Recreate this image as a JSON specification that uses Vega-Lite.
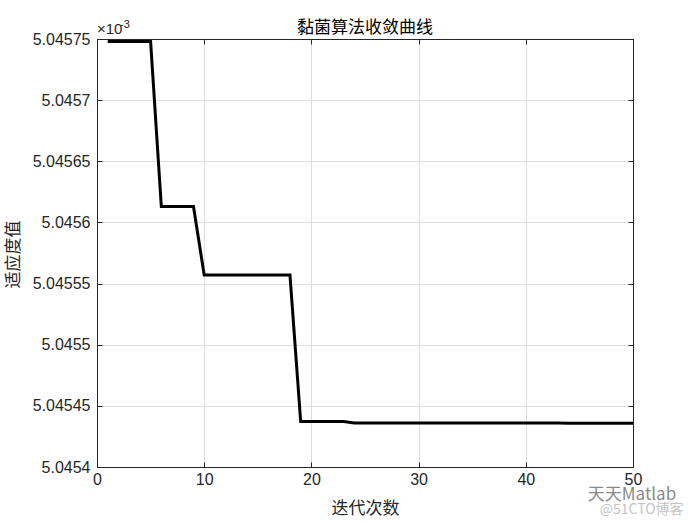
{
  "$schema": "https://vega.github.io/schema/vega-lite/v6.json",
  "width": 536,
  "height": 428,
  "autosize": {"type": "none"},
  "padding": {"left": 97, "top": 39, "right": 67, "bottom": 58},
  "background": "white",
  "title": {"text": "黏菌算法收敛曲线", "font": "Noto Sans CJK SC", "fontSize": 17, "fontWeight": "normal", "color": "#000000", "offset": -18, "anchor": "middle", "frame": "group"},
  "config": {
    "view": {"stroke": "#262626", "strokeWidth": 1},
    "axis": {"labelFont": "Liberation Sans", "labelFontSize": 16, "labelColor": "#262626", "domainColor": "#262626", "tickColor": "#262626", "gridColor": "#dedede", "gridWidth": 1, "titleFont": "Noto Sans CJK SC", "titleFontSize": 17, "titleFontWeight": "normal", "titleColor": "#262626"}
  },
  "datasets": {
    "curve": [
      {"iter": 1, "fitness": 0.005045748},
      {"iter": 2, "fitness": 0.005045748},
      {"iter": 3, "fitness": 0.005045748},
      {"iter": 4, "fitness": 0.005045748},
      {"iter": 5, "fitness": 0.005045748},
      {"iter": 6, "fitness": 0.005045613},
      {"iter": 7, "fitness": 0.005045613},
      {"iter": 8, "fitness": 0.005045613},
      {"iter": 9, "fitness": 0.005045613},
      {"iter": 10, "fitness": 0.005045557},
      {"iter": 11, "fitness": 0.005045557},
      {"iter": 12, "fitness": 0.005045557},
      {"iter": 13, "fitness": 0.005045557},
      {"iter": 14, "fitness": 0.005045557},
      {"iter": 15, "fitness": 0.005045557},
      {"iter": 16, "fitness": 0.005045557},
      {"iter": 17, "fitness": 0.005045557},
      {"iter": 18, "fitness": 0.005045557},
      {"iter": 19, "fitness": 0.0050454372},
      {"iter": 20, "fitness": 0.0050454372},
      {"iter": 21, "fitness": 0.0050454372},
      {"iter": 22, "fitness": 0.0050454372},
      {"iter": 23, "fitness": 0.0050454372},
      {"iter": 24, "fitness": 0.005045436},
      {"iter": 25, "fitness": 0.005045436},
      {"iter": 26, "fitness": 0.005045436},
      {"iter": 27, "fitness": 0.005045436},
      {"iter": 28, "fitness": 0.005045436},
      {"iter": 29, "fitness": 0.005045436},
      {"iter": 30, "fitness": 0.005045436},
      {"iter": 31, "fitness": 0.005045436},
      {"iter": 32, "fitness": 0.005045436},
      {"iter": 33, "fitness": 0.005045436},
      {"iter": 34, "fitness": 0.005045436},
      {"iter": 35, "fitness": 0.005045436},
      {"iter": 36, "fitness": 0.005045436},
      {"iter": 37, "fitness": 0.005045436},
      {"iter": 38, "fitness": 0.005045436},
      {"iter": 39, "fitness": 0.005045436},
      {"iter": 40, "fitness": 0.005045436},
      {"iter": 41, "fitness": 0.005045436},
      {"iter": 42, "fitness": 0.005045436},
      {"iter": 43, "fitness": 0.005045436},
      {"iter": 44, "fitness": 0.0050454357},
      {"iter": 45, "fitness": 0.0050454357},
      {"iter": 46, "fitness": 0.0050454357},
      {"iter": 47, "fitness": 0.0050454357},
      {"iter": 48, "fitness": 0.0050454357},
      {"iter": 49, "fitness": 0.0050454357},
      {"iter": 50, "fitness": 0.0050454357}
    ],
    "notes": [
      {"iter": 0, "fitness": 0.00504575, "label": "×10", "sup": "-3"}
    ],
    "marks": [
      {"iter": 45.5, "fitness": 0.0050454, "label": "天天Matlab", "sub": "@51CTO博客"}
    ]
  },
  "layer": [
    {
      "data": {"name": "curve"},
      "mark": {"type": "line", "color": "#000000", "strokeWidth": 3, "strokeJoin": "miter"},
      "encoding": {
        "x": {"field": "iter", "type": "quantitative", "title": "迭代次数",
              "scale": {"domain": [0, 50], "nice": false, "zero": false},
              "axis": {"orient": "bottom", "values": [0, 10, 20, 30, 40, 50], "grid": true, "tickSize": -5, "labelPadding": 9, "titleY": 41, "titleBaseline": "middle", "labelFlush": false}},
        "y": {"field": "fitness", "type": "quantitative", "title": "适应度值",
              "scale": {"domain": [0.0050454, 0.00504575], "nice": false, "zero": false},
              "axis": {"orient": "left", "values": [0.0050454, 0.00504545, 0.0050455, 0.00504555, 0.0050456, 0.00504565, 0.0050457, 0.00504575], "labelExpr": "format(datum.value*1000, '.5~f')", "grid": true, "tickSize": -5, "labelPadding": 12, "titleX": -84, "titleY": 215, "titleBaseline": "middle", "titleAlign": "center", "labelFlush": false}}
      }
    },
    {
      "data": {"name": "curve"},
      "mark": {"type": "line", "strokeOpacity": 0},
      "encoding": {
        "x": {"field": "iter", "type": "quantitative",
              "axis": {"orient": "top", "values": [0, 10, 20, 30, 40, 50], "grid": false, "labels": false, "title": null, "tickSize": -5}},
        "y": {"field": "fitness", "type": "quantitative",
              "axis": {"orient": "right", "values": [0.0050454, 0.00504545, 0.0050455, 0.00504555, 0.0050456, 0.00504565, 0.0050457, 0.00504575], "grid": false, "labels": false, "title": null, "tickSize": -5}}
      }
    },
    {
      "data": {"name": "notes"},
      "mark": {"type": "text", "align": "left", "baseline": "bottom", "font": "Liberation Sans", "fontSize": 15, "color": "#262626", "dy": -2},
      "encoding": {
        "x": {"field": "iter", "type": "quantitative", "axis": null},
        "y": {"field": "fitness", "type": "quantitative", "axis": null},
        "text": {"field": "label"}
      }
    },
    {
      "data": {"name": "notes"},
      "mark": {"type": "text", "align": "left", "baseline": "bottom", "font": "Liberation Sans", "fontSize": 11, "color": "#262626", "dx": 23, "dy": -9},
      "encoding": {
        "x": {"field": "iter", "type": "quantitative", "axis": null},
        "y": {"field": "fitness", "type": "quantitative", "axis": null},
        "text": {"field": "sup"}
      }
    },
    {
      "data": {"name": "marks"},
      "mark": {"type": "text", "align": "left", "baseline": "middle", "font": "Noto Sans CJK SC", "fontSize": 17, "color": "#8a8a8a", "dx": 3, "dy": 28},
      "encoding": {
        "x": {"field": "iter", "type": "quantitative", "axis": null},
        "y": {"field": "fitness", "type": "quantitative", "axis": null},
        "text": {"field": "label"}
      }
    },
    {
      "data": {"name": "marks"},
      "mark": {"type": "text", "align": "left", "baseline": "middle", "font": "Noto Sans CJK SC", "fontSize": 14, "color": "#c4c4c4", "dx": 15, "dy": 43},
      "encoding": {
        "x": {"field": "iter", "type": "quantitative", "axis": null},
        "y": {"field": "fitness", "type": "quantitative", "axis": null},
        "text": {"field": "sub"}
      }
    }
  ],
  "resolve": {"axis": {"x": "independent", "y": "independent"}}
}
